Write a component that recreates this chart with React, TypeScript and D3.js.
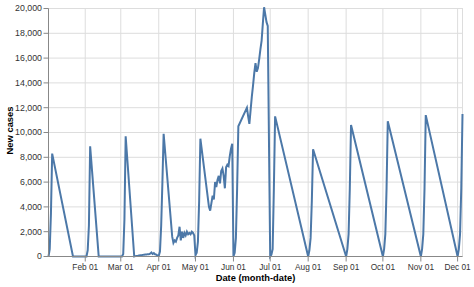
import React from "react";
import * as d3 from "d3";

const dates: string[] = [
  "01-02","01-03","01-04","01-05","01-22","02-01",
  "02-02","02-03","02-04","02-05","02-12","03-02",
  "03-03","03-04","03-05","03-12","03-13","03-14","03-15","03-16","03-17","03-18","03-19","03-20","03-21","03-22","03-23","03-24","03-25","03-26","03-27","03-28","03-29","03-30","03-31",
  "04-01","04-02","04-03","04-04","04-05",
  "04-12","04-13","04-14","04-15","04-16","04-17","04-18","04-19","04-20","04-21","04-22","04-23","04-24","04-25","04-26","04-27","04-28","04-29","04-30",
  "05-01","05-02","05-03","05-04","05-05",
  "05-12","05-13","05-14","05-15","05-16","05-17","05-18","05-19","05-20","05-21","05-22","05-23","05-24","05-25","05-26","05-27","05-28","05-29","05-30","05-31",
  "06-01","06-02","06-03","06-04","06-05",
  "06-12","06-13","06-14","06-15","06-16","06-17","06-18","06-19","06-20","06-21","06-22","06-23","06-24","06-25","06-26","06-27","06-28","06-29",
  "07-01","07-02","07-03","07-04","07-05",
  "08-01","08-02","08-03","08-04","08-05",
  "09-01","09-02","09-03","09-04","09-05",
  "10-01","10-02","10-03","10-04","10-05",
  "11-01","11-02","11-03","11-04","11-05",
  "12-01","12-02","12-03","12-04","12-05",
];

const cases: number[] = [
  0, 600, 3500, 8300, 0, 0,
  0, 500, 2500, 8880, 0, 0,
  200, 3000, 9700, 0, 30, 50, 60, 80, 100, 110, 130, 150, 160, 170, 190, 180, 230, 320, 200, 270, 180, 150, 80,
  60, 400, 2500, 6000, 9900,
  1600, 1100, 1300, 1200, 1500, 1700, 2400, 1300, 2000, 1500, 1900, 1700, 2000, 1800, 1900, 1800, 2000, 1900, 1700,
  100, 300, 1200, 4500, 9500,
  4000, 3700, 4300, 4900, 4600, 6000, 5600, 6200, 6500, 5900, 6900, 7100, 6500, 5500, 7200, 7400, 7300, 8100, 8700, 9100,
  0, 300, 1500, 5500, 10500,
  12000, 11300, 10700, 11800, 12900, 13800, 14800, 15600, 14900, 15200, 15900, 16700, 17400, 18800, 20100, 19500, 18900, 18600,
  0, 150, 600, 5500, 11300,
  0, 500, 1500, 4500, 8650,
  0, 600, 1800, 5500, 10600,
  0, 600, 1800, 5500, 10900,
  0, 600, 1800, 5500, 11400,
  0, 600, 1800, 5500, 11500,
];

const yTicks: number[] = [0, 2000, 4000, 6000, 8000, 10000, 12000, 14000, 16000, 18000, 20000];
const xTickLabels: string[] = ["Feb 01","Mar 01","Apr 01","May 01","Jun 01","Jul 01","Aug 01","Sep 01","Oct 01","Nov 01","Dec 01"];

const W = 474;
const H = 287;
const left = 48.5;
const right = 462.5;
const top = 8.5;
const bottom = 256.5;

const parse = d3.utcParse("%Y-%m-%d");
const FONT = "'Liberation Sans', Arial, Helvetica, sans-serif";

export default function App() {
  const data = dates.map((d, i) => ({ date: parse("2020-" + d) as Date, value: cases[i] }));
  const x = d3
    .scaleUtc()
    .domain(d3.extent(data, (d) => d.date) as [Date, Date])
    .range([left, right]);
  const y = d3.scaleLinear().domain([0, 20000]).range([bottom, top]);
  const line = d3
    .line<{ date: Date; value: number }>()
    .x((d) => x(d.date))
    .y((d) => y(d.value));
  const monthTicks = xTickLabels.map((lab) => ({
    lab,
    date: d3.utcParse("%b %d %Y")(lab + " 2020") as Date,
  }));
  const fmt = d3.format(",");

  return (
    <svg
      width={W}
      height={H}
      style={{ position: "absolute", left: 0, top: 0, background: "#fff" }}
      fontFamily={FONT}
    >
      <rect x={0} y={0} width={W} height={H} fill="#fff" />
      <g stroke="#ddd" strokeWidth={1}>
        {yTicks.map((t) => (
          <line key={"gy" + t} x1={left} x2={right} y1={y(t)} y2={y(t)} />
        ))}
        {monthTicks.map((t) => (
          <line key={"gx" + t.lab} x1={x(t.date)} x2={x(t.date)} y1={top} y2={bottom} />
        ))}
      </g>
      <rect x={left} y={top} width={right - left} height={bottom - top} fill="none" stroke="#ddd" />
      <path d={line(data) || ""} fill="none" stroke="#4c78a8" strokeWidth={2} strokeLinejoin="miter" />
      <g>
        <line x1={left} x2={left} y1={top} y2={bottom} stroke="#888" />
        {yTicks.map((t) => (
          <g key={"yt" + t}>
            <line x1={left - 5} x2={left} y1={y(t)} y2={y(t)} stroke="#888" />
            <text x={left - 6.5} y={y(t)} dy="0.34em" textAnchor="end" fontSize={8.8} fill="#333">
              {fmt(t)}
            </text>
          </g>
        ))}
        <text
          transform={`translate(12.5,${(top + bottom) / 2 - 2}) rotate(-90)`}
          textAnchor="middle"
          fontSize={9.4}
          fontWeight="bold"
          fill="#000"
        >
          New cases
        </text>
      </g>
      <g>
        <line x1={left} x2={right} y1={bottom} y2={bottom} stroke="#888" />
        {monthTicks.map((t) => (
          <g key={"xt" + t.lab}>
            <line x1={x(t.date)} x2={x(t.date)} y1={bottom} y2={bottom + 5} stroke="#888" />
            <text x={x(t.date)} y={269.5} textAnchor="middle" fontSize={8.3} fill="#333">
              {t.lab}
            </text>
          </g>
        ))}
        <text x={(left + right) / 2} y={280.8} textAnchor="middle" fontSize={9.3} fontWeight="bold" fill="#000">
          Date (month-date)
        </text>
      </g>
    </svg>
  );
}
